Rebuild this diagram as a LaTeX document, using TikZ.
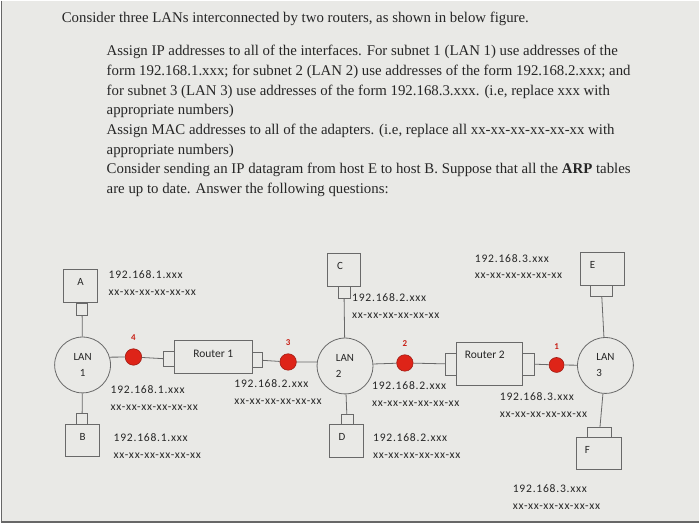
\documentclass[tikz,border=0pt]{standalone}
\usepackage{fontspec}
\setmainfont{Liberation Serif}
\newfontfamily\netfont{Carlito}
\newfontfamily\addrfont[LetterSpace=6.6]{Carlito}
\usetikzlibrary{positioning}
\definecolor{paper}{RGB}{233,233,230}
\definecolor{ink}{RGB}{38,38,38}
\definecolor{wire}{RGB}{105,105,105}
\definecolor{ifred}{RGB}{222,36,24}
\definecolor{ifedge}{RGB}{160,28,20}
\tikzset{
  wireln/.style={line width=0.8pt, wire},
  hostbox/.style={draw=wire, line width=0.8pt, fill=paper, inner sep=0pt,
    text height=7pt, text depth=8pt, text=ink,
    font=\netfont\fontsize{11}{13}\selectfont},
  nicbox/.style={draw=wire, line width=0.8pt, fill=paper, inner sep=0pt},
  routerbox/.style={draw=wire, line width=0.8pt, fill=paper, inner sep=0pt,
    text height=7.5pt, text=ink, font=\netfont\fontsize{11.5}{13}\selectfont},
  lanring/.style={circle, draw=wire, line width=0.8pt, fill=paper, inner sep=0pt,
    minimum size=56pt, align=center, text=ink,
    font=\netfont\fontsize{11}{16}\selectfont},
  ifdot/.style={circle, fill=ifred, draw=ifedge, line width=0.6pt,
    minimum size=16.5pt, inner sep=0pt},
  ifnum/.style={text=ifred!90!black, inner sep=3pt,
    font=\netfont\bfseries\fontsize{9}{10}\selectfont},
  addr/.style={anchor=north west, align=left, inner sep=0pt, text=ink,
    font=\addrfont\fontsize{11.6}{17}\selectfont},
  para/.style={align=left, inner sep=0pt, text=ink,
    font=\fontsize{14.85}{19.7}\selectfont},
}
% name, x, first baseline, subnet (the digits stand 7.3pt high)
\newcommand{\addrnode}[4]{%
  \node[addr] (#1) at (#2,#3-7.3) {192.168.#4.xxx\\xx-xx-xx-xx-xx-xx};
}

\begin{document}
\begin{tikzpicture}[x=1pt, y=-1pt]
    % screen background
    \fill[paper] (0,0) rectangle (700,523);
    \draw[ink!70, line width=1.5pt] (0.75,0) -- (0.75,523);
    \draw[ink!70, line width=1.5pt] (0,522.25) -- (700,522.25);
    % question text
    \node[para, anchor=base west] (intro) at (61,22)
      {Consider three LANs interconnected by two routers, as shown in below figure.};
    \node[para, anchor=north west] (tasks) at (106,44.7)
      {Assign IP addresses to all of the interfaces. For subnet 1 (LAN 1) use addresses of the\\
       form 192.168.1.xxx; for subnet 2 (LAN 2) use addresses of the form 192.168.2.xxx; and\\
       for subnet 3 (LAN 3) use addresses of the form 192.168.3.xxx. (i.e, replace xxx with\\
       appropriate numbers)\\
       Assign MAC addresses to all of the adapters. (i.e, replace all xx-xx-xx-xx-xx-xx with\\
       appropriate numbers)\\
       Consider sending an IP datagram from host E to host B. Suppose that all the \textbf{ARP} tables\\
       are up to date. Answer the following questions:};
    % LANs
    \node[lanring] (lan1) at (82,365) {LAN\\1};
    \node[lanring, align=left] (lan2) at (345,366) {LAN\\2};
    \node[lanring, align=left] (lan3) at (606,365.5) {LAN\\3};
    % hosts and their adapters
    \node[hostbox, minimum width=34pt, minimum height=33pt] (hostA) at (80,285.5) {A};
    \node[nicbox, minimum width=11pt, minimum height=12pt] (nicA) at (81.5,309) {};
    \node[nicbox, minimum width=11pt, minimum height=11pt] (nicB) at (81.5,419.5) {};
    \node[hostbox, minimum width=34pt, minimum height=32pt] (hostB) at (82,441) {B};
    \node[hostbox, minimum width=33pt, minimum height=33pt] (hostC) at (343.5,269.5) {C\hspace*{7pt}};
    \node[nicbox, minimum width=12pt, minimum height=12pt] (nicC) at (344,292) {};
    \node[nicbox, minimum width=12pt, minimum height=10pt] (nicD) at (347,420) {};
    \node[hostbox, minimum width=34pt, minimum height=33pt] (hostD) at (346,441.5) {D\hspace*{8pt}};
    \node[hostbox, minimum width=44pt, minimum height=33pt] (hostE) at (603,268.5) {E\hspace*{20pt}};
    \node[nicbox, minimum width=22pt, minimum height=11pt] (nicE) at (602,290.5) {};
    \node[nicbox, minimum width=24pt, minimum height=10pt] (nicF) at (600,433) {};
    \node[hostbox, minimum width=45pt, minimum height=32pt] (hostF) at (599.5,454) {F\hspace*{23pt}};
    % routers
    \node[routerbox, text depth=6pt, minimum width=78pt, minimum height=33pt] (rtr1) at (213,356.5) {Router 1};
    \node[nicbox, minimum width=11pt, minimum height=15pt] (rtr1L) at (168.5,359) {};
    \node[nicbox, minimum width=10pt, minimum height=15pt] (rtr1R) at (257,360) {};
    \node[routerbox, text depth=17pt, minimum width=66pt, minimum height=43pt] (rtr2) at (490,363.5) {Router 2\hspace*{10pt}};
    \node[nicbox, minimum width=11pt, minimum height=22pt] (rtr2L) at (451.5,364) {};
    \node[nicbox, minimum width=12pt, minimum height=22pt] (rtr2R) at (529,364) {};
    % interfaces
    \node[ifdot] (if4) at (133,357) {};
    \node[ifdot] (if3) at (288,362) {};
    \node[ifdot] (if2) at (405,363) {};
    \node[ifdot, minimum size=15pt] (if1) at (557,365) {};
    \foreach \k in {1,...,4} {
      \node[ifnum, above=5pt of if\k] (num\k) {\k};
    }
    % wires
    \draw[wireln] (nicA) -- (lan1);
    \draw[wireln] (lan1) -- (nicB);
    \draw[wireln] (nicC) -- (lan2);
    \draw[wireln] (lan2) -- (nicD);
    \draw[wireln] (nicE) -- (lan3);
    \draw[wireln] (lan3) -- (nicF);
    \draw[wireln] (lan1.16) -- (if4);
    \draw[wireln] (if4) -- (rtr1L);
    \draw[wireln] (rtr1R) -- (if3);
    \draw[wireln] (if3) -- (lan2.172);
    \draw[wireln] (lan2.4) -- (if2);
    \draw[wireln] (if2) -- (rtr2L);
    \draw[wireln] (rtr2R) -- (if1);
    \draw[wireln] (if1) -- (lan3);
    % addresses
    \addrnode{addrA}{108}{277.5}{1}
    \addrnode{addr4}{110}{393}{1}
    \addrnode{addrB}{113}{441}{1}
    \addrnode{addr3}{234}{387}{2}
    \addrnode{addrC}{352}{301}{2}
    \addrnode{addr2}{372}{389}{2}
    \addrnode{addrD}{373}{441}{2}
    \addrnode{addrE}{475}{261}{3}
    \addrnode{addr1}{500}{400}{3}
    \addrnode{addrF}{513}{492}{3}
  \end{tikzpicture}
\end{document}
